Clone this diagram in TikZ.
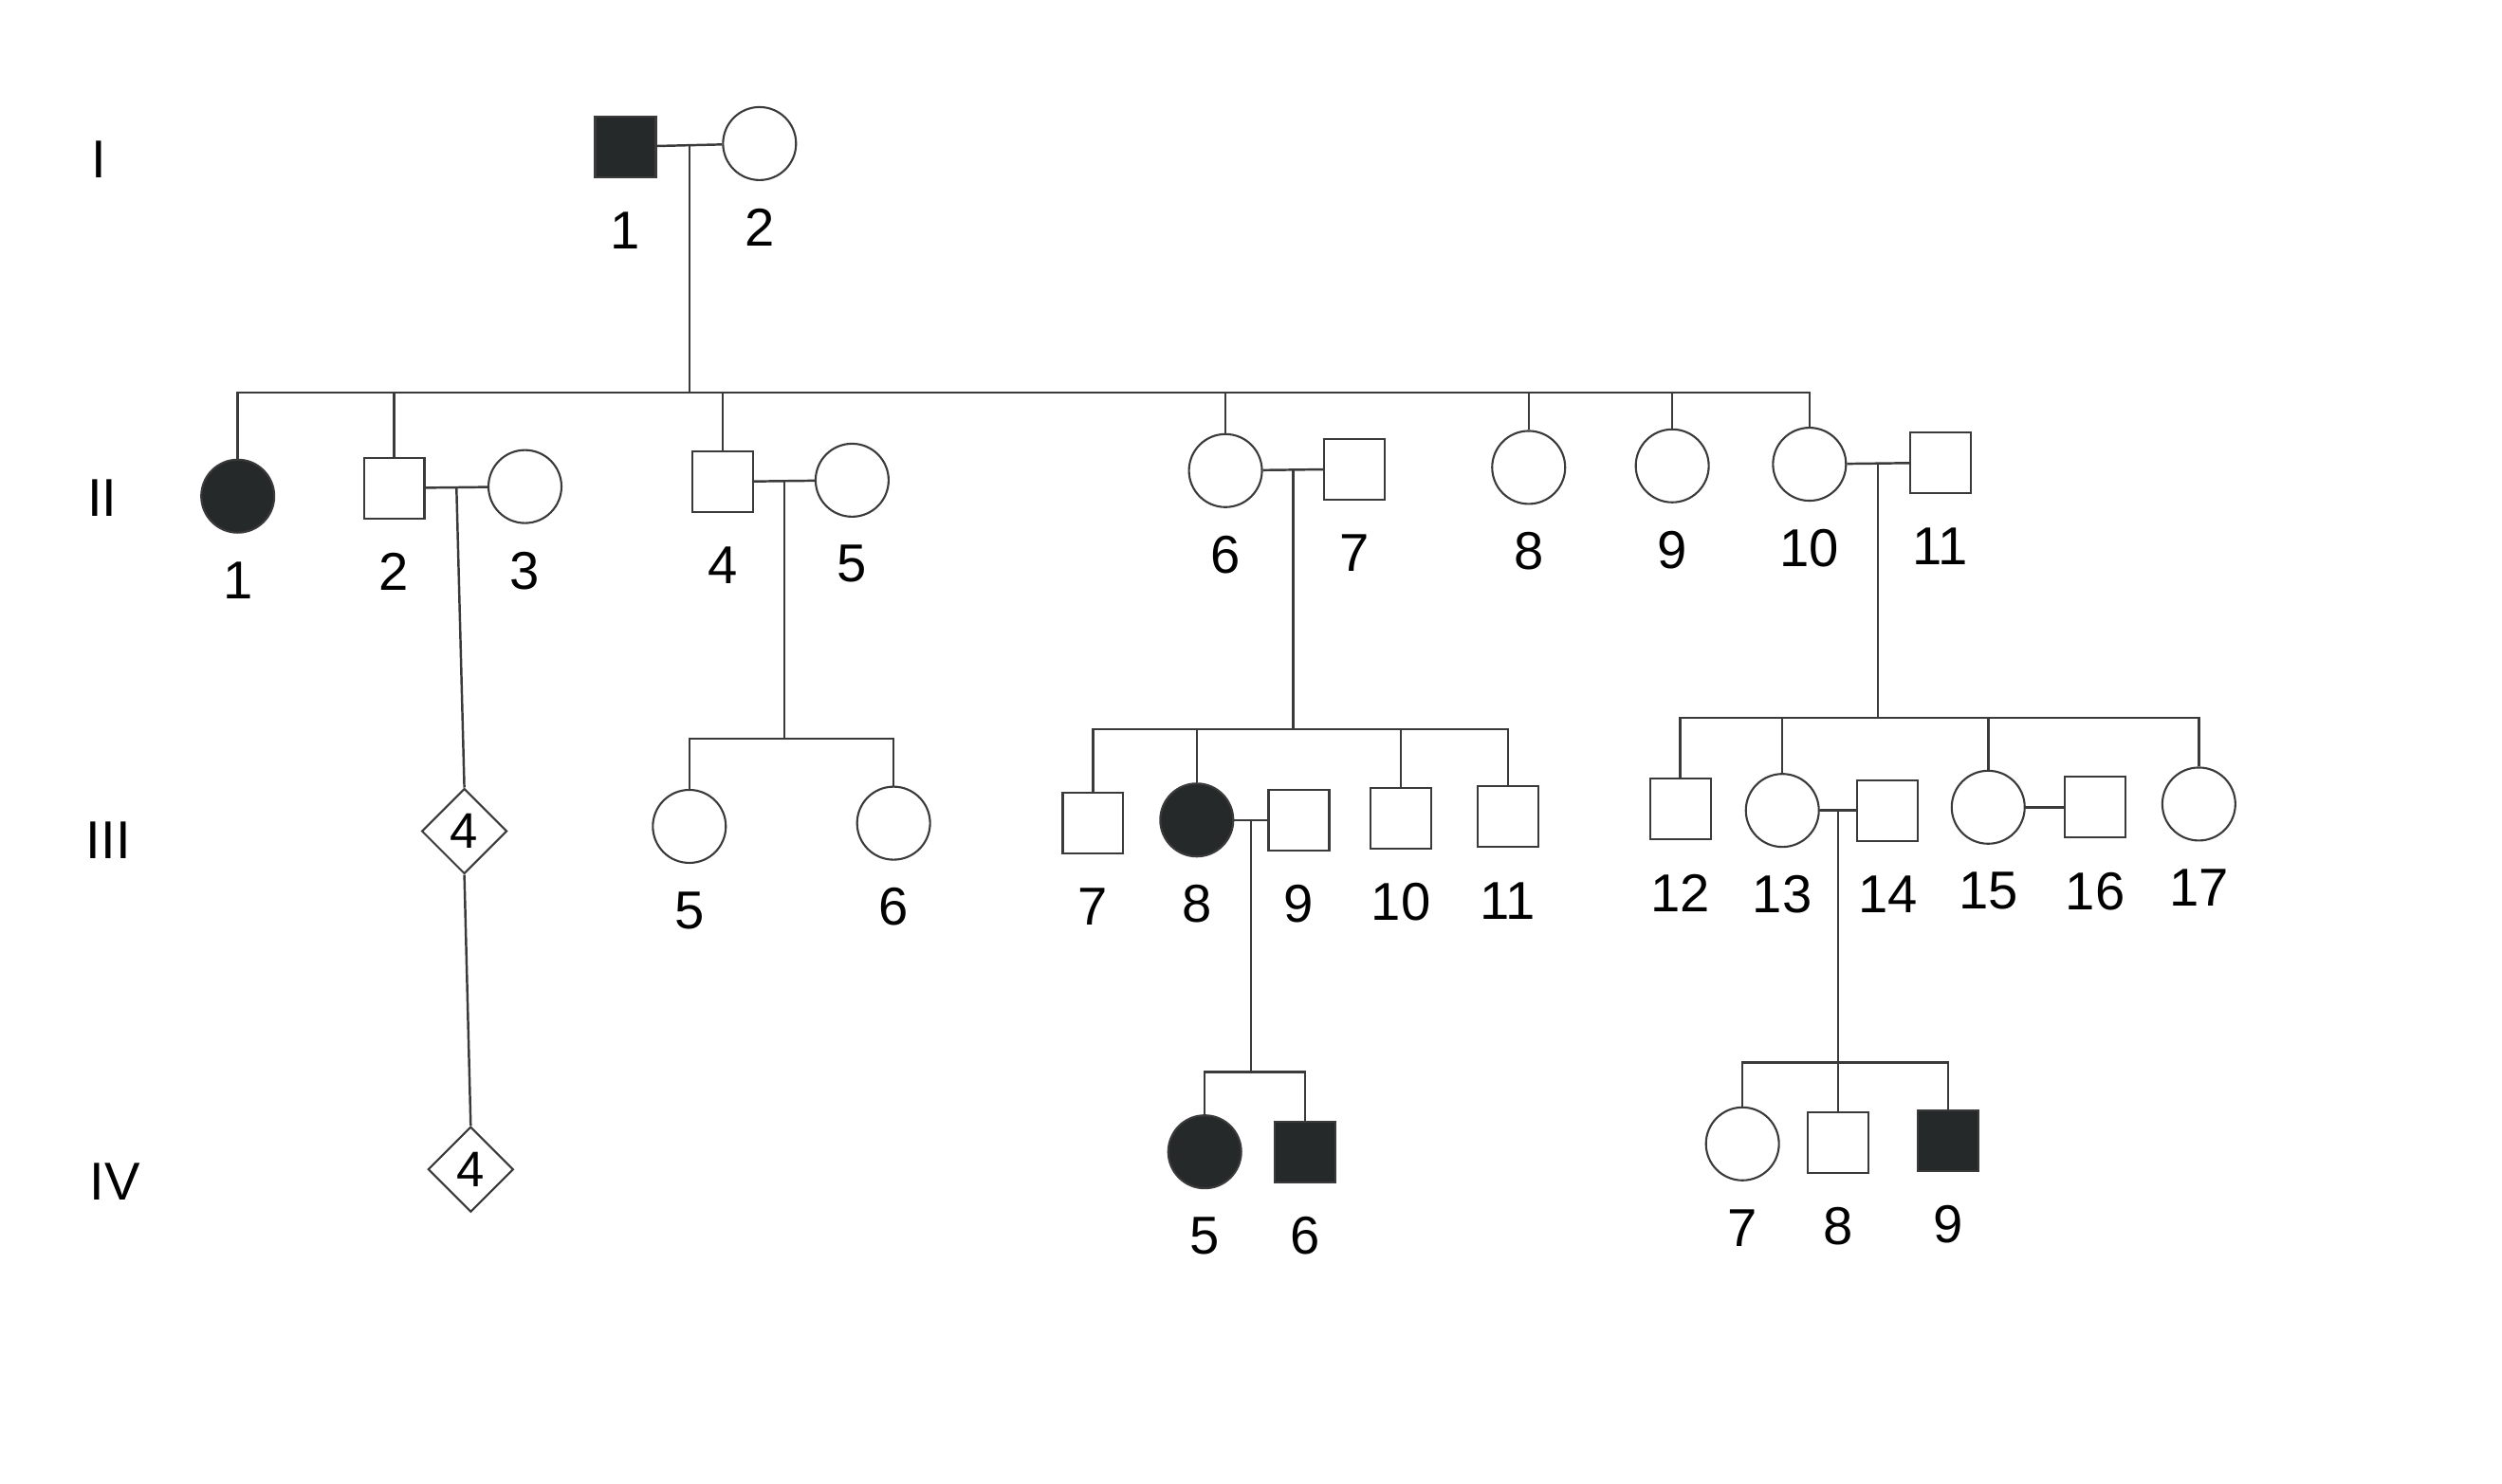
\documentclass[tikz,border=0pt]{standalone}
\usepackage{fontspec}
\setmainfont{Liberation Sans}
\usepackage{tikz}
\usetikzlibrary{shapes.geometric,calc}
\definecolor{inkgray}{HTML}{3A3A3A}
\definecolor{affectfill}{HTML}{25292A}
\tikzset{
  malebox/.style={draw=inkgray,rectangle,minimum size=0.64cm,inner sep=0pt,
    line width=0.6pt},
  femalebox/.style={draw=inkgray,circle,minimum size=0.77cm,inner sep=0pt,
    line width=0.6pt},
  sexunknown/.style={draw=inkgray,diamond,aspect=1,minimum size=0.9cm,inner sep=0pt,
    line width=0.6pt,font=\fontsize{15}{17}\selectfont},
  affected/.style={fill=affectfill},
  idlabel/.style={font=\fontsize{16}{18}\selectfont,anchor=center,inner sep=0pt},
  mlabel/.style={idlabel,yshift=-0.555cm},
  flabel/.style={idlabel,yshift=-0.49cm},
  genlabel/.style={font=\fontsize{16}{18}\selectfont},
  pedline/.style={draw=inkgray,line width=0.7pt}
}

\begin{document}
\begin{tikzpicture}[x=0.016824cm,y=-0.016824cm]
  \useasboundingbox (0,0) rectangle (1568,930);
  % 代数
  \node[genlabel] (gI) at (62,100) {I};
  \node[genlabel] (gII) at (64,312) {II};
  \node[genlabel] (gIII) at (68,527) {III};
  \node[genlabel] (gIV) at (72,741) {IV};
  % 第一代
  \node[malebox,affected,label={[mlabel]below:1}] (I1) at (392,92) {};
  \node[femalebox,label={[flabel]below:2}] (I2) at (476,90) {};
  \draw[pedline] (I1) -- (I2);
  \coordinate (c12) at ($(I1.east)!0.5!(I2.west)$);
  % 第二代
  \node[femalebox,affected,label={[flabel]below:1}] (II1) at (149,311) {};
  \node[malebox,label={[mlabel]below:2}] (II2) at (247,306) {};
  \node[femalebox,label={[flabel]below:3}] (II3) at (329,305) {};
  \node[malebox,label={[mlabel]below:4}] (II4) at (453,302) {};
  \node[femalebox,label={[flabel]below:5}] (II5) at (534,301) {};
  \node[femalebox,label={[flabel]below:6}] (II6) at (768,295) {};
  \node[malebox,label={[mlabel]below:7}] (II7) at (849,294) {};
  \node[femalebox,label={[flabel]below:8}] (II8) at (958,293) {};
  \node[femalebox,label={[flabel]below:9}] (II9) at (1048,292) {};
  \node[femalebox,label={[flabel]below:10}] (II10) at (1134,291) {};
  \node[malebox,label={[mlabel]below:11}] (II11) at (1216,290) {};
  \coordinate (sibII) at (0,246);
  \draw[pedline] (c12) -- (c12 |- sibII);
  \draw[pedline] (II1.north) -- (II1.north |- sibII) -- (II10.north |- sibII) -- (II10.north);
  \foreach \kid in {II2,II4,II6,II8,II9}
    \draw[pedline] (\kid.north) -- (\kid.north |- sibII);
  \draw[pedline] (II2) -- (II3);
  \draw[pedline] (II4) -- (II5);
  \draw[pedline] (II6) -- (II7);
  \draw[pedline] (II10) -- (II11);
  \coordinate (c23) at ($(II2.east)!0.5!(II3.west)$);
  \coordinate (c45) at ($(II4.east)!0.5!(II5.west)$);
  \coordinate (c67) at ($(II6.east)!0.5!(II7.west)$);
  \coordinate (c1011) at ($(II10.east)!0.5!(II11.west)$);
  % 第三代
  \node[sexunknown] (III4) at (291,521) {4};
  \node[femalebox,label={[flabel]below:5}] (III5) at (432,518) {};
  \node[femalebox,label={[flabel]below:6}] (III6) at (560,516) {};
  \node[malebox,label={[mlabel]below:7}] (III7) at (685,516) {};
  \node[femalebox,affected,label={[flabel]below:8}] (III8) at (750,514) {};
  \node[malebox,label={[mlabel]below:9}] (III9) at (814,514) {};
  \node[malebox,label={[mlabel]below:10}] (III10) at (878,513) {};
  \node[malebox,label={[mlabel]below:11}] (III11) at (945,512) {};
  \node[malebox,label={[mlabel]below:12}] (III12) at (1053,507) {};
  \node[femalebox,label={[flabel]below:13}] (III13) at (1117,508) {};
  \node[malebox,label={[mlabel]below:14}] (III14) at (1183,508) {};
  \node[femalebox,label={[flabel]below:15}] (III15) at (1246,506) {};
  \node[malebox,label={[mlabel]below:16}] (III16) at (1313,506) {};
  \node[femalebox,label={[flabel]below:17}] (III17) at (1378,504) {};
  \draw[pedline] (c23) -- (III4.north);
  \coordinate (sibA) at (0,463);
  \draw[pedline] (c45) -- (c45 |- sibA);
  \draw[pedline] (III5.north) -- (III5.north |- sibA) -- (III6.north |- sibA) -- (III6.north);
  \coordinate (sibB) at (0,457);
  \draw[pedline] (c67) -- (c67 |- sibB);
  \draw[pedline] (III7.north) -- (III7.north |- sibB) -- (III11.north |- sibB) -- (III11.north);
  \foreach \kid in {III8,III10}
    \draw[pedline] (\kid.north) -- (\kid.north |- sibB);
  \coordinate (sibC) at (0,450);
  \draw[pedline] (c1011) -- (c1011 |- sibC);
  \draw[pedline] (III12.north) -- (III12.north |- sibC) -- (III17.north |- sibC) -- (III17.north);
  \foreach \kid in {III13,III15}
    \draw[pedline] (\kid.north) -- (\kid.north |- sibC);
  \draw[pedline] (III8) -- (III9);
  \draw[pedline] (III13) -- (III14);
  \draw[pedline] (III15) -- (III16);
  \coordinate (c89) at ($(III8.east)!0.5!(III9.west)$);
  \coordinate (c1314) at ($(III13.east)!0.5!(III14.west)$);
  % 第四代
  \node[sexunknown] (IV4) at (295,733) {4};
  \node[femalebox,affected,label={[flabel]below:5}] (IV5) at (755,722) {};
  \node[malebox,affected,label={[mlabel]below:6}] (IV6) at (818,722) {};
  \node[femalebox,label={[flabel]below:7}] (IV7) at (1092,717) {};
  \node[malebox,label={[mlabel]below:8}] (IV8) at (c1314 |- 0,716) {};
  \node[malebox,affected,label={[mlabel]below:9}] (IV9) at (1221,715) {};
  \draw[pedline] (III4.south) -- (IV4.north);
  \coordinate (sibD) at (0,672);
  \draw[pedline] (c89) -- (c89 |- sibD);
  \draw[pedline] (IV5.north) -- (IV5.north |- sibD) -- (IV6.north |- sibD) -- (IV6.north);
  \coordinate (sibE) at (0,666);
  \draw[pedline] (c1314) -- (IV8.north);
  \draw[pedline] (IV7.north) -- (IV7.north |- sibE) -- (IV9.north |- sibE) -- (IV9.north);
\end{tikzpicture}
\end{document}
